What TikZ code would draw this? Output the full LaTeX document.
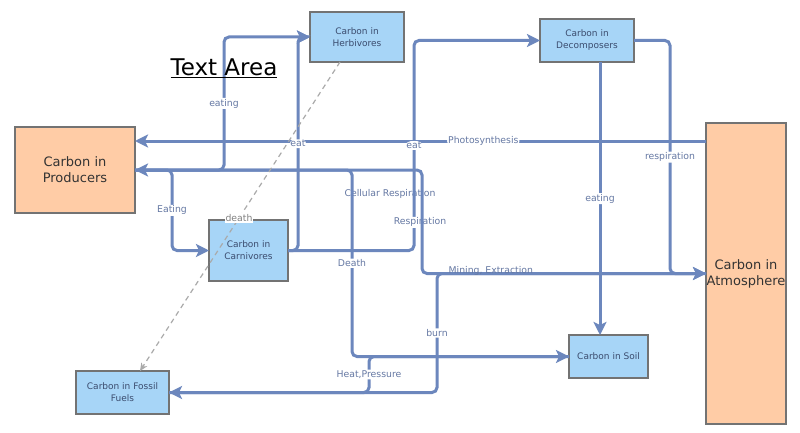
\documentclass[tikz,border=0pt]{standalone}
\usepackage{fontspec}
\setmainfont{DejaVu Sans}
\usepackage[HTML]{xcolor}
\usetikzlibrary{positioning, arrows, arrows.meta}
\definecolor{linec}{HTML}{6C87BD}
\definecolor{bluef}{HTML}{A7D5F7}
\definecolor{orangef}{HTML}{FFCCA6}
\definecolor{borderc}{HTML}{737373}
\definecolor{lblc}{HTML}{6578A3}
\definecolor{boxtext}{HTML}{3B4C6E}
\definecolor{dashc}{HTML}{AAAAAA}

\begin{document}
\begin{tikzpicture}[x=1pt, y=-1pt,
  box/.style={draw=borderc, line width=1.2pt, inner sep=0pt, outer sep=0pt, align=center},
  bluebox/.style={box, fill=bluef, text=boxtext, font=\fontsize{9}{12}\selectfont},
  carbonbox/.style={box, fill=orangef, text=black!80, font=\fontsize{13}{16}\selectfont},
  flow/.style={draw=linec, line width=3pt, rounded corners=5pt, -{Stealth[length=13pt,width=13pt,inset=3pt]}},
  lbl/.style={fill=white, text=lblc, inner sep=1pt, font=\fontsize{9.3}{11}\selectfont}]
\useasboundingbox[fill=white] (0,0) rectangle (800,433);

\node[carbonbox, minimum width=120pt, minimum height=86pt] (prod) at (75,170) {Carbon in\\Producers};
\node[carbonbox, minimum width=80pt, minimum height=301pt] (atm) at (746,273.5) {Carbon in\\Atmosphere};
\node[bluebox, minimum width=94pt, minimum height=50pt] (herb) at (357,37) {Carbon in\\Herbivores};
\node[bluebox, minimum width=94pt, minimum height=43pt] (deco) at (587,40.5) {Carbon in\\Decomposers};
\node[bluebox, minimum width=79pt, minimum height=61pt] (carn) at (248.5,250.5) {Carbon in\\Carnivores};
\node[bluebox, minimum width=93pt, minimum height=43pt] (foss) at (122.5,392.5) {Carbon in Fossil\\Fuels};
\node[bluebox, minimum width=79pt, minimum height=43pt] (soil) at (608.5,356.5) {Carbon in Soil};

\node[lbl, fill=none] (cellresp) at (390,194) {Cellular Respiration};

\draw[flow] ([yshift=132.5pt]atm.west) -- node[lbl, pos=0.39] {Photosynthesis} ([yshift=29pt]prod.east);
\draw[flow] (prod.east) -| node[lbl, pos=0.75] {eating} ([xshift=-86pt]herb.west) -- (herb.west);
\draw[flow] (prod.east) -| node[lbl, pos=0.75] {Eating} ([xshift=-37pt]carn.west) -- (carn.west);
\draw[flow] (prod.east) -| node[lbl, pos=0.75] {Death} ([xshift=-217pt]soil.west) -- (soil.west);
\draw[flow] (carn.east) -| node[lbl, pos=0.75] {eat} ([xshift=-12pt]herb.west) -- (herb.west);
\draw[flow] (carn.east) -| node[lbl, pos=0.75] {eat} node[lbl, pos=0.567, xshift=6pt] {Respiration} ([xshift=-126pt]deco.west) -- (deco.west);
\draw[flow] (atm.west) -| ([xshift=287pt]prod.east) -- (prod.east);
\draw[flow] ([xshift=13pt]deco.south) -- node[lbl] {eating} ([xshift=13pt]deco.south |- soil.north);
\draw[flow] (deco.east) -| node[lbl, pos=0.75] {respiration} ([xshift=-36pt]atm.west) -- (atm.west);
\draw[flow] (foss.east) -| node[lbl, pos=0.75] {burn} ([xshift=-269pt]atm.west) -- node[lbl, fill=none, pos=0.2, yshift=3pt] {Mining, Extraction} (atm.west);
\draw[flow] (soil.west) -| node[lbl, pos=0.75] {Heat,Pressure} ([xshift=200pt]foss.east) -- (foss.east);
\draw[draw=dashc, line width=1.2pt, dash pattern=on 5pt off 4pt, -{Stealth[length=8pt,width=7pt]}] ([xshift=-17pt]herb.south) -- node[lbl, text=gray, pos=0.505] {death} ([xshift=17.5pt]foss.north);

\node[font=\fontsize{23}{27}\selectfont] (title) at (224,68) {\underline{Text Area}};
\end{tikzpicture}
\end{document}
